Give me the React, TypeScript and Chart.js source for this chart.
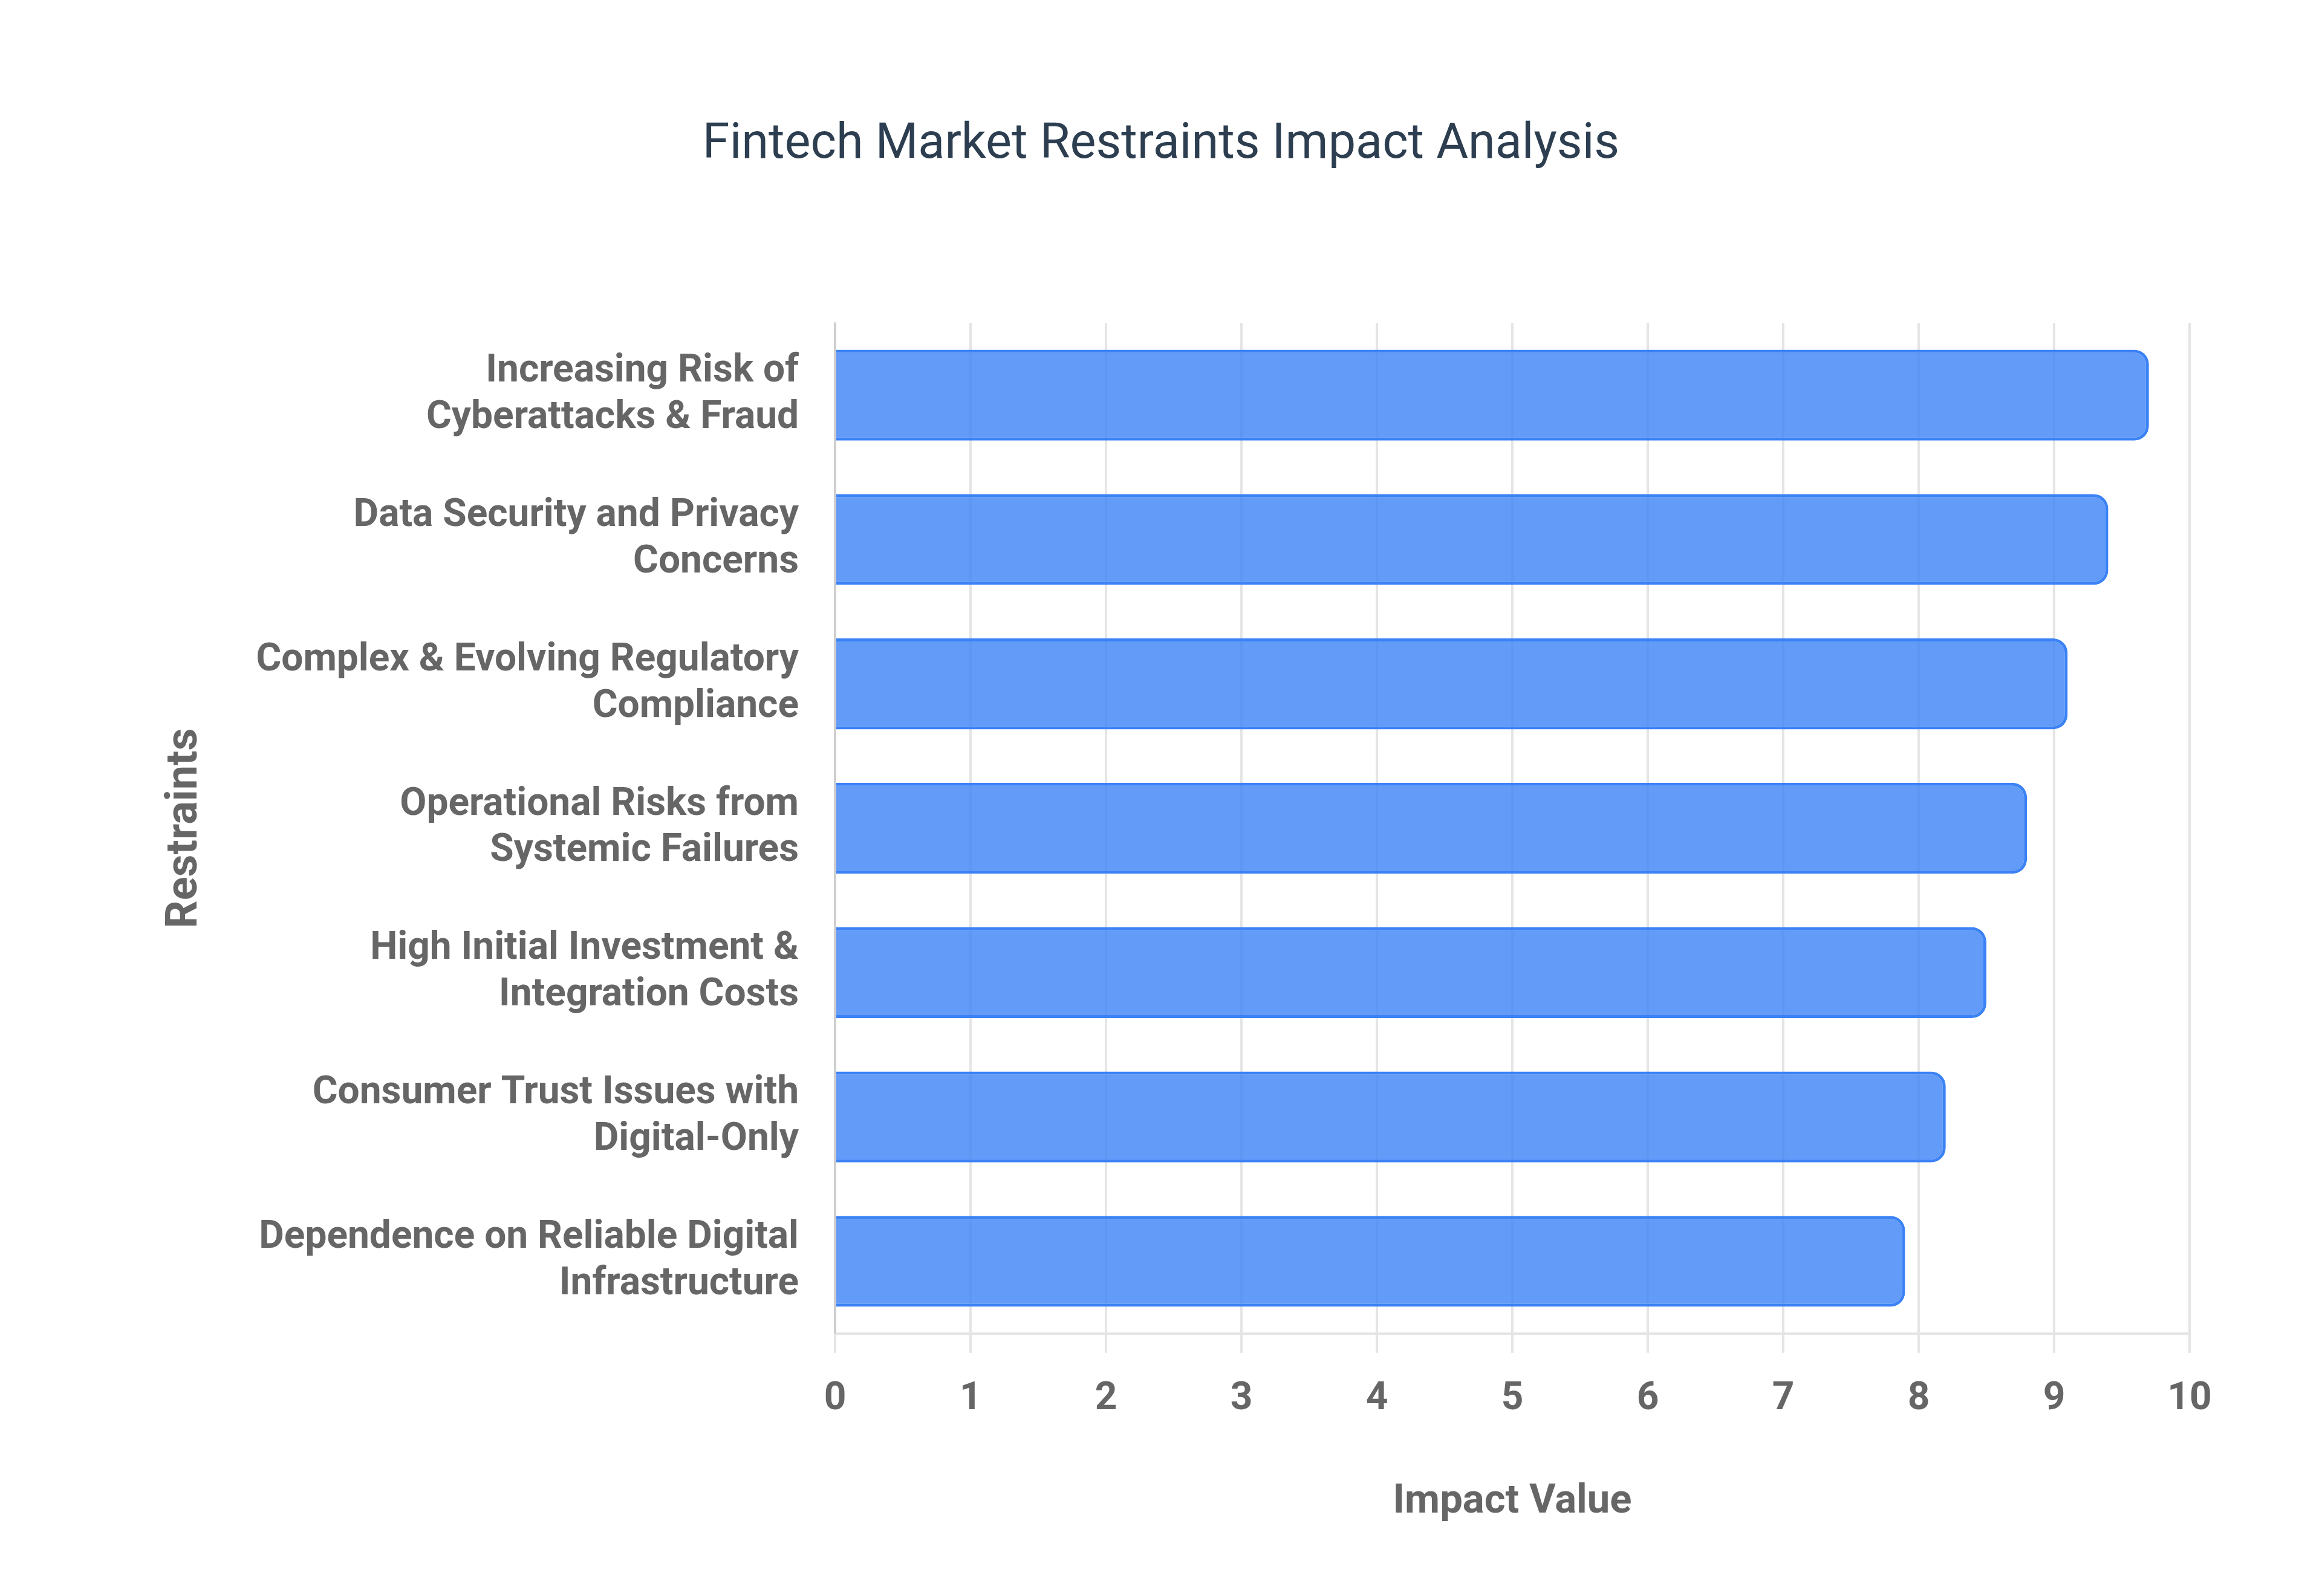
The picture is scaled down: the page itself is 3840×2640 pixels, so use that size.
import { useEffect, useRef } from 'react';
import { Chart, registerables } from 'chart.js';

Chart.register(...registerables);

// the reference is drawn at 4x the usual chart size
const S = 4;

const restraints: string[][] = [
  ['Increasing Risk of', 'Cyberattacks & Fraud'],
  ['Data Security and Privacy', 'Concerns'],
  ['Complex & Evolving Regulatory', 'Compliance'],
  ['Operational Risks from', 'Systemic Failures'],
  ['High Initial Investment &', 'Integration Costs'],
  ['Consumer Trust Issues with', 'Digital-Only'],
  ['Dependence on Reliable Digital', 'Infrastructure'],
];

const impactValues = [9.7, 9.4, 9.1, 8.8, 8.5, 8.2, 7.9];

const xMin = 0;
const xMax = 10;
const xStep = 1;

export default function App() {
  const canvasRef = useRef<HTMLCanvasElement | null>(null);

  useEffect(() => {
    const canvas = canvasRef.current;
    if (!canvas) return;

    const font = 'Roboto';
    const grey = '#666666';

    const chart = new Chart(canvas, {
      type: 'bar',
      data: {
        labels: restraints,
        datasets: [
          {
            label: 'Impact Value',
            data: impactValues,
            backgroundColor: 'rgba(59, 130, 246, 0.8)',
            borderColor: '#3b82f6',
            borderWidth: 1.25 * S,
            borderRadius: 6 * S,
            borderSkipped: 'start',
            barPercentage: 0.7,
            categoryPercentage: 0.9,
          },
        ],
      },
      options: {
        indexAxis: 'y',
        responsive: false,
        maintainAspectRatio: false,
        devicePixelRatio: 1,
        animation: false,
        layout: {
          // equal side padding keeps the title centred on the canvas
          padding: { top: 80, left: 219, right: 219, bottom: 75 },
        },
        plugins: {
          legend: { display: false },
          tooltip: { enabled: false },
          title: {
            display: true,
            text: 'Fintech Market Restraints Impact Analysis',
            color: '#2c3e50',
            font: { family: font, size: 81, weight: 'normal' },
            padding: { top: 112, bottom: 245 },
          },
        },
        scales: {
          x: {
            min: xMin,
            max: xMax,
            ticks: {
              stepSize: xStep,
              color: grey,
              padding: 39,
              font: { family: font, size: 16 * S, weight: 'bold' },
            },
            grid: {
              color: 'rgba(0, 0, 0, 0.1)',
              lineWidth: S,
              tickLength: 8 * S,
            },
            border: { color: 'rgba(0, 0, 0, 0.1)', width: S },
            title: {
              display: true,
              text: 'Impact Value',
              color: grey,
              font: { family: font, size: 67, weight: 'bold' },
              padding: { top: 52, bottom: 40 },
            },
          },
          y: {
            ticks: {
              color: grey,
              padding: 15 * S,
              font: { family: font, size: 16 * S, weight: 'bold' },
            },
            grid: { display: false, drawTicks: false },
            border: { color: 'rgba(0, 0, 0, 0.1)', width: S },
            title: {
              display: true,
              text: 'Restraints',
              color: grey,
              font: { family: font, size: 18 * S, weight: 'bold' },
              padding: { top: 45, bottom: 13 },
            },
          },
        },
      },
    });

    return () => {
      chart.destroy();
    };
  }, []);

  return (
    <div style={{ position: 'fixed', left: 0, top: 0, width: 3840, height: 2640, background: '#fff' }}>
      <canvas ref={canvasRef} width={3840} height={2640} style={{ width: 3840, height: 2640 }} />
    </div>
  );
}
